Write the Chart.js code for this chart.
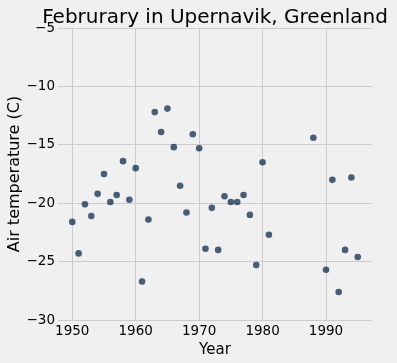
<!DOCTYPE html>
<html>
<head>
<meta charset="utf-8">
<script src="https://cdn.jsdelivr.net/npm/chart.js@4"></script>
<style>
  html, body { margin: 0; padding: 0; background: #f0f0f0; }
  #wrap { width: 397px; height: 363px; }
</style>
</head>
<body>
<div id="wrap"><canvas id="chart" width="397" height="363"></canvas></div>
<script>
// February air temperature, Upernavik
const years = [1950, 1951, 1952, 1953, 1954, 1955, 1956, 1957, 1958, 1959,
               1960, 1961, 1962, 1963, 1964, 1965, 1966, 1967, 1968, 1969,
               1970, 1971, 1972, 1973, 1974, 1975, 1976, 1977, 1978, 1979,
               1980, 1981, 1988, 1990, 1991, 1992, 1993, 1994, 1995];
const temps = [-21.6, -24.3, -20.1, -21.1, -19.2, -17.5, -19.9, -19.3, -16.4, -19.7,
               -17.0, -26.7, -21.4, -12.2, -13.9, -11.9, -15.2, -18.5, -20.8, -14.1,
               -15.3, -23.9, -20.4, -24.0, -19.4, -19.9, -19.9, -19.3, -21.0, -25.3,
               -16.5, -22.7, -14.4, -25.7, -18.0, -27.6, -24.0, -17.8, -24.6];
const yTicks = [-30, -25, -20, -15, -10, -5];
const xTicks = [1950, 1960, 1970, 1980, 1990];

const font = "'DejaVu Sans', sans-serif";

// title centred over the plot area, like matplotlib does
const titlePlugin = {
    id: "plotTitle",
    afterDraw(chart) {
        let ctx = chart.ctx;
        let area = chart.chartArea;
        ctx.save();
        ctx.fillStyle = "#000";
        ctx.font = "20px " + font;
        ctx.textAlign = "center";
        ctx.textBaseline = "alphabetic";
        ctx.fillText("Februrary in Upernavik, Greenland", (area.left + area.right) / 2, 23);
        ctx.restore();
    }
};

const bg = {
    id: "bg",
    beforeDraw(chart) {
        let ctx = chart.ctx;
        ctx.save();
        ctx.fillStyle = "#f0f0f0";
        ctx.fillRect(0, 0, chart.width, chart.height);
        ctx.restore();
    }
};

let points = years.map((y, i) => ({ x: y, y: temps[i] }));

new Chart(document.getElementById("chart"), {
    type: "scatter",
    data: {
        datasets: [{
            data: points,
            backgroundColor: "rgba(0, 30, 66, 0.7)",
            borderWidth: 0,
            pointRadius: 3.3,
            pointHoverRadius: 3.3
        }]
    },
    options: {
        responsive: false,
        animation: false,
        layout: { padding: { top: 28, right: 25, left: 0, bottom: 0 } },
        plugins: {
            legend: { display: false },
            tooltip: { enabled: false }
        },
        scales: {
            x: {
                type: "linear",
                min: 1947.75,
                max: 1997.25,
                afterFit: s => { s.height = 43; },
                afterBuildTicks: s => { s.ticks = xTicks.map(v => ({ value: v })); },
                grid: { color: "#cbcbcb", lineWidth: 1, drawTicks: false },
                border: { display: false },
                ticks: {
                    includeBounds: false,
                    padding: 3,
                    color: "#000",
                    font: { family: font, size: 13.5 },
                    callback: v => String(v)
                },
                title: {
                    display: true,
                    text: "Year",
                    color: "#000",
                    font: { family: font, size: 15 },
                    padding: { top: 0, bottom: 4 }
                }
            },
            y: {
                min: -30,
                max: -5,
                afterFit: s => { s.width = 58; },
                afterBuildTicks: s => { s.ticks = yTicks.map(v => ({ value: v })); },
                grid: { color: "#cbcbcb", lineWidth: 1, drawTicks: false },
                border: { display: false },
                ticks: {
                    padding: 3,
                    color: "#000",
                    font: { family: font, size: 13.5 },
                    callback: v => String(v).replace("-", "\u2212")
                },
                title: {
                    display: true,
                    text: "Air temperature (C)",
                    color: "#000",
                    font: { family: font, size: 16 },
                    padding: { top: 5, bottom: 0 }
                }
            }
        }
    },
    plugins: [bg, titlePlugin]
});
</script>
</body>
</html>
